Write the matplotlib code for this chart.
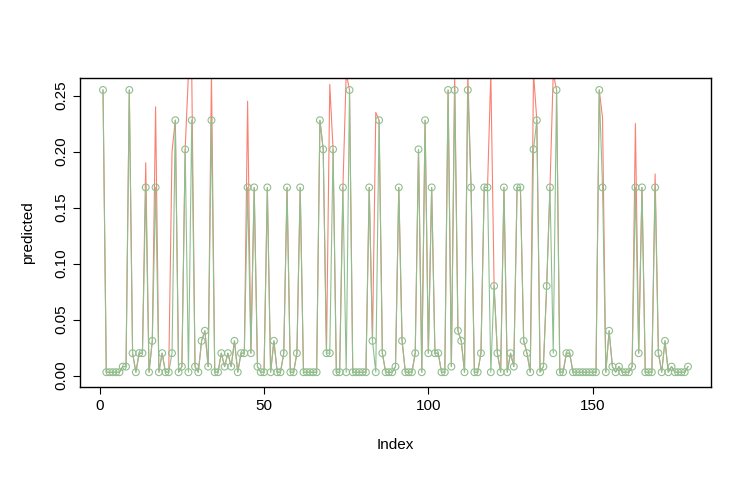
import matplotlib
matplotlib.use("Agg")
import matplotlib.pyplot as plt
import numpy as np

plt.rcParams['font.family'] = ['Liberation Sans', 'DejaVu Sans']

lv = dict(A=0.255, B=0.228, C=0.202, D=0.168, E=0.08, F=0.04, G=0.031, H=0.02, I=0.008, J=0.003)
codes = ("AJJJJJIIAHJHHDJGDJHJJHBJICJBIJGFIBJJHIHIGJHHDHDIJ"
         "JDJGJJHDJJHDJJJJJBCHHCJJDJAJJJJJDGJBHJJJIDGJJJHC"
         "JBHDHHJJAIAFGJADJJHDDJEHJDJHIDDGHJCBJIEDHAJJHHJJJJ"
         "JJJJADJFIJIJJJIDHDJJJDHJGJIJJJJI")
predicted = [lv[c] for c in codes]
red_idx = [14, 17, 22, 27, 28, 34, 45, 70, 75, 84, 108, 112, 119, 132, 138, 153, 163, 169]
red_val = [0.19, 0.24, 0.20, 0.27, 0.27, 0.27, 0.245, 0.26, 0.27, 0.235, 0.27, 0.27, 0.27, 0.27, 0.27, 0.23, 0.225, 0.18]
actual = list(predicted)
for i, v in zip(red_idx, red_val):
    if i - 1 < len(actual):
        actual[i - 1] = v

x = np.arange(1, len(predicted) + 1)
green = "#8fbf8f"
red = "#fa8072"

fig = plt.figure(figsize=(7.43, 4.84), dpi=100)
ax = fig.add_axes([80/743, 1-387/484, 631/743, 309/484])
ax.plot(x, actual, color=red, lw=0.8)
ax.plot(x, predicted, color=green, lw=0.8)
ax.scatter(x, predicted, s=24, facecolors="none", edgecolors=green, linewidths=0.8, zorder=3)
ax.set_xlim(-6, 186)
ax.set_ylim(-0.0102, 0.2657)
ax.set_xticks([0, 50, 100, 150])
ax.set_yticks([0, 0.05, 0.10, 0.15, 0.20, 0.25])
ax.set_yticklabels(["0.00", "0.05", "0.10", "0.15", "0.20", "0.25"], rotation=90, va="center")
ax.tick_params(labelsize=11, length=5)
ax.set_xlabel("Index", fontsize=11, labelpad=18)
ax.set_ylabel("predicted", fontsize=11, labelpad=14)
for s in ax.spines.values():
    s.set_linewidth(1)
fig.savefig("out.png", dpi=100)
